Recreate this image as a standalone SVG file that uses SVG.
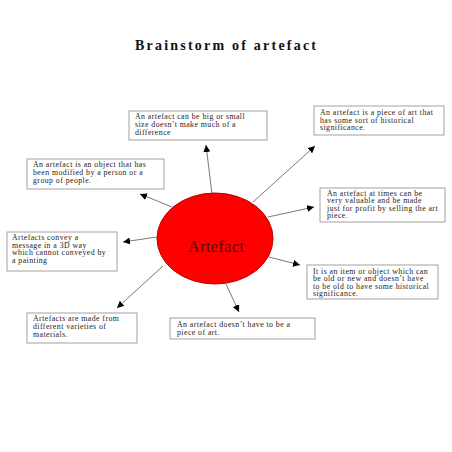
<svg xmlns="http://www.w3.org/2000/svg" width="452" height="452" viewBox="0 0 452 452">
<defs>
<style>
.box{fill:#fff;stroke:#8a8a8a;stroke-width:0.8}
.t{font-family:"Liberation Serif","Times New Roman",serif;font-size:7.8px;letter-spacing:0.45px;fill:#222}
.title{font-family:"Liberation Serif","Times New Roman",serif;font-size:14px;font-weight:bold;fill:#111;letter-spacing:1px}
.c{stroke:#555;stroke-width:0.8;fill:none;marker-end:url(#ah)}
</style>
<marker id="ah" viewBox="0 0 10 10" refX="10" refY="5" markerWidth="7" markerHeight="7" markerUnits="userSpaceOnUse" orient="auto">
<path d="M0,0 L10,5 L0,10 z" fill="#000"/>
</marker>
</defs>
<rect width="452" height="452" fill="#fff"/>
<text class="title" x="135" y="50" textLength="182">Brainstorm of artefact</text>
<g id="connectors">
<line class="c" x1="212" y1="194" x2="206" y2="145"/>
<line class="c" x1="172" y1="207" x2="140" y2="194"/>
<line class="c" x1="253" y1="202" x2="315" y2="146"/>
<line class="c" x1="268" y1="217" x2="314" y2="207"/>
<line class="c" x1="157" y1="237" x2="123" y2="242"/>
<line class="c" x1="163" y1="266" x2="117" y2="308"/>
<line class="c" x1="226" y1="284" x2="239" y2="312"/>
<line class="c" x1="269" y1="257" x2="300" y2="265"/>
</g>
<g id="center">
<ellipse cx="215" cy="238.5" rx="58" ry="45.5" fill="#f00" stroke="#b00" stroke-width="1"/>
<text x="188" y="252" textLength="56" style="font-family:'Liberation Serif','Times New Roman',serif;font-size:16px;fill:#5a0a0a">Artefact</text>
</g>
<g id="n-size">
<rect class="box" x="129" y="111" width="138" height="29"/>
<text class="t"><tspan x="135" y="119">An artefact can be big or small</tspan><tspan x="135" y="127">size doesn’t make much of a</tspan><tspan x="135" y="135">difference</tspan></text>
</g>
<g id="n-modified">
<rect class="box" x="27" y="159" width="137" height="30"/>
<text class="t"><tspan x="33" y="167">An artefact is an object that has</tspan><tspan x="33" y="175">been modified by a person or a</tspan><tspan x="33" y="183">group of people.</tspan></text>
</g>
<g id="n-art">
<rect class="box" x="314" y="106" width="130" height="29"/>
<text class="t"><tspan x="320" y="115">An artefact is a piece of art that</tspan><tspan x="320" y="122.5">has some sort of historical</tspan><tspan x="320" y="130">significance.</tspan></text>
</g>
<g id="n-valuable">
<rect class="box" x="320" y="188" width="125" height="34"/>
<text class="t"><tspan x="327" y="196">An artefact at times can be</tspan><tspan x="327" y="203.3">very valuable and be made</tspan><tspan x="327" y="210.6">just for profit by selling the art</tspan><tspan x="327" y="218">piece.</tspan></text>
</g>
<g id="n-3d">
<rect class="box" x="7" y="232" width="110" height="39"/>
<text class="t"><tspan x="12" y="240">Artefacts convey a</tspan><tspan x="12" y="247.5">message in a 3D way</tspan><tspan x="12" y="255">which cannot conveyed by</tspan><tspan x="12" y="262.5">a painting</tspan></text>
</g>
<g id="n-materials">
<rect class="box" x="27" y="313" width="110" height="30"/>
<text class="t"><tspan x="33" y="321">Artefacts are made from</tspan><tspan x="33" y="329">different varieties of</tspan><tspan x="33" y="337">materials.</tspan></text>
</g>
<g id="n-piece">
<rect class="box" x="170" y="318" width="145" height="21"/>
<text class="t"><tspan x="177" y="327">An artefact doesn’t have to be a</tspan><tspan x="177" y="334.5">piece of art.</tspan></text>
</g>
<g id="n-item">
<rect class="box" x="307" y="265" width="131" height="34"/>
<text class="t"><tspan x="313" y="274">It is an item or object which can</tspan><tspan x="313" y="281.3">be old or new and doesn’t have</tspan><tspan x="313" y="288.6">to be old to have some historical</tspan><tspan x="313" y="296">significance.</tspan></text>
</g>
</svg>
